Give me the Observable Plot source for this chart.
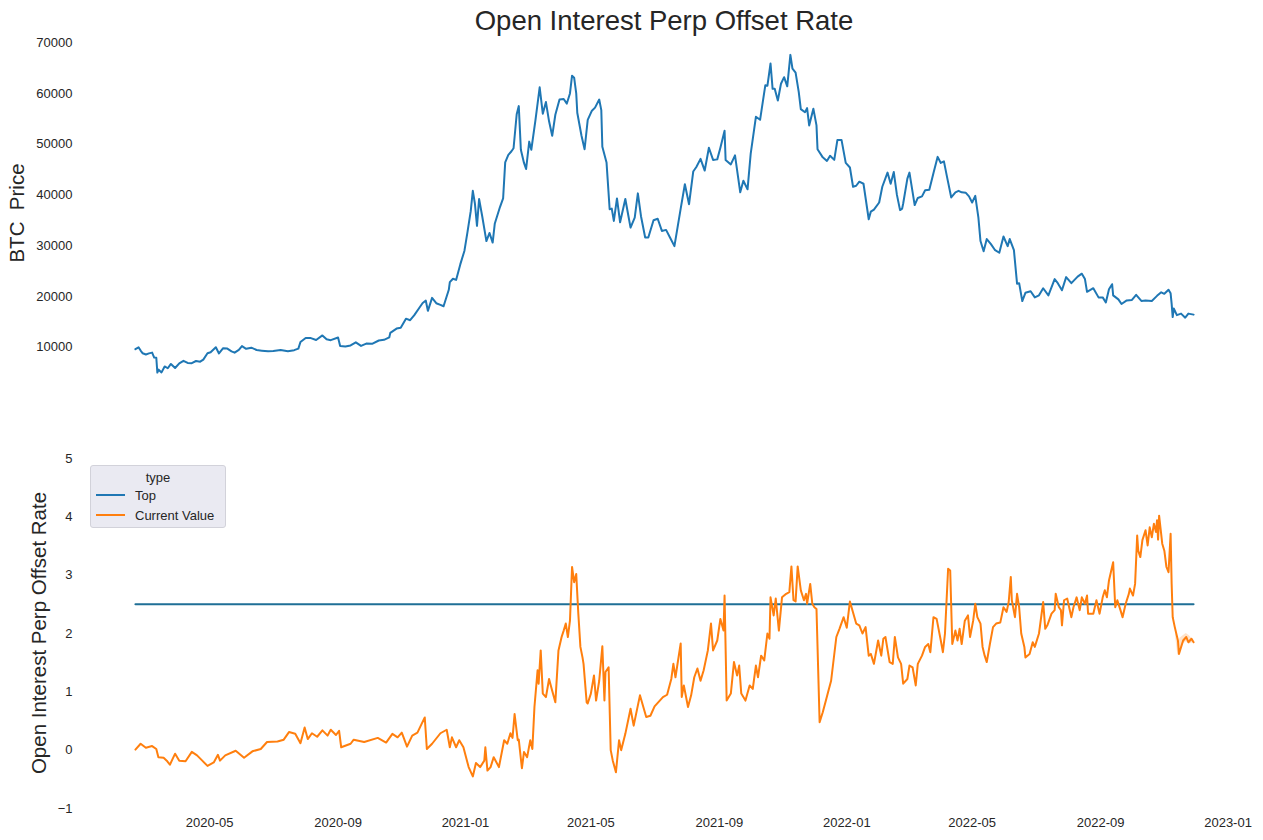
<!DOCTYPE html>
<html>
<head>
<meta charset="utf-8">
<script src="https://cdn.jsdelivr.net/npm/d3@7"></script>
<script src="https://cdn.jsdelivr.net/npm/@observablehq/plot@0.6"></script>
<style>
  html, body { margin: 0; padding: 0; background: #fff; }
  #page { position: relative; width: 1263px; height: 840px; background: #fff;
          font-family: "Liberation Sans", Arial, sans-serif; color: #262626; overflow: hidden; }
  .abs { position: absolute; }
  .ylab { position: absolute; transform: translate(-50%, -50%) rotate(-90deg); white-space: pre; line-height: normal; }
  #legend { position: absolute; left: 90px; top: 465px; width: 134px; height: 61px; background: #eaeaf2;
            border: 1px solid #d2d2da; border-radius: 3px; font-size: 13px; }
  .sw { position: absolute; height: 2px; width: 29px; left: 5px; }
  .lt { position: absolute; left: 44px; line-height: 1; }
</style>
</head>
<body>
<div id="page">
  <div class="abs" style="left:82px;width:1164px;top:5px;text-align:center;font-size:27.5px;line-height:normal;">Open Interest Perp Offset Rate</div>
  <div class="ylab" style="left:17px;top:213px;font-size:20.5px;">BTC  Price</div>
  <div class="ylab" style="left:39px;top:633px;font-size:20.5px;">Open Interest Perp Offset Rate</div>
  <div id="top" class="abs" style="left:0;top:0;"></div>
  <div id="bottom" class="abs" style="left:0;top:440px;"></div>
  <div id="legend">
    <div class="abs" style="left:0;width:134px;top:5px;text-align:center;line-height:1;">type</div>
    <div class="sw" style="top:28px;background:#1f77b4;"></div>
    <div class="lt" style="top:23px;">Top</div>
    <div class="sw" style="top:48px;background:#ff7f0e;"></div>
    <div class="lt" style="top:43px;">Current Value</div>
  </div>
</div>
<script>
// ---------------- DATA ----------------
const btcDates = [
"2020-02-20","2020-02-23","2020-02-25","2020-02-27","2020-03-01","2020-03-04","2020-03-07","2020-03-09","2020-03-11","2020-03-12","2020-03-13","2020-03-16","2020-03-19","2020-03-22","2020-03-25","2020-03-29",
"2020-04-02","2020-04-06","2020-04-10","2020-04-14","2020-04-18","2020-04-22","2020-04-25","2020-04-29","2020-05-02","2020-05-07","2020-05-10","2020-05-14","2020-05-18","2020-05-22","2020-05-25","2020-05-29",
"2020-06-01","2020-06-05","2020-06-10","2020-06-15","2020-06-20","2020-06-26","2020-07-01","2020-07-08","2020-07-15","2020-07-21","2020-07-25","2020-07-27","2020-08-01","2020-08-06","2020-08-11","2020-08-17",
"2020-08-21","2020-08-25","2020-09-01","2020-09-03","2020-09-08","2020-09-13","2020-09-18","2020-09-23","2020-09-28","2020-10-04","2020-10-10","2020-10-15","2020-10-20","2020-10-21","2020-10-27","2020-10-31",
"2020-11-05","2020-11-09","2020-11-13","2020-11-18","2020-11-21","2020-11-24","2020-11-26","2020-11-30","2020-12-04","2020-12-08","2020-12-11","2020-12-16","2020-12-17","2020-12-20","2020-12-23","2020-12-27","2020-12-31",
"2021-01-03","2021-01-06","2021-01-08","2021-01-10","2021-01-12","2021-01-14","2021-01-17","2021-01-21","2021-01-24","2021-01-27","2021-01-29","2021-02-03","2021-02-06","2021-02-08","2021-02-11","2021-02-14","2021-02-16",
"2021-02-19","2021-02-21","2021-02-23","2021-02-26","2021-02-28","2021-03-03","2021-03-05","2021-03-09","2021-03-13","2021-03-16","2021-03-19","2021-03-22","2021-03-25","2021-03-28","2021-04-01","2021-04-05","2021-04-08",
"2021-04-11","2021-04-13","2021-04-15","2021-04-17","2021-04-18","2021-04-22","2021-04-25","2021-04-28","2021-05-02","2021-05-05","2021-05-09","2021-05-11","2021-05-12","2021-05-16","2021-05-19","2021-05-21","2021-05-23",
"2021-05-26","2021-05-29","2021-06-03","2021-06-06","2021-06-08","2021-06-12","2021-06-15","2021-06-18","2021-06-22","2021-06-25","2021-06-30","2021-07-04","2021-07-08","2021-07-12","2021-07-16","2021-07-20","2021-07-23",
"2021-07-26","2021-07-30","2021-08-03","2021-08-07","2021-08-10","2021-08-14","2021-08-18","2021-08-22","2021-08-26","2021-08-30","2021-09-02","2021-09-06","2021-09-07","2021-09-12","2021-09-16","2021-09-21","2021-09-24",
"2021-09-28","2021-10-01","2021-10-06","2021-10-10","2021-10-15","2021-10-17","2021-10-20","2021-10-22","2021-10-24","2021-10-27","2021-10-30","2021-11-02","2021-11-05","2021-11-08","2021-11-10","2021-11-13","2021-11-16",
"2021-11-18","2021-11-22","2021-11-24","2021-11-26","2021-11-30","2021-12-03","2021-12-04","2021-12-09","2021-12-13","2021-12-16","2021-12-20","2021-12-23","2021-12-27","2021-12-31",
"2022-01-04","2022-01-07","2022-01-10","2022-01-13","2022-01-17","2022-01-22","2022-01-24","2022-01-27","2022-02-01","2022-02-04","2022-02-09","2022-02-12","2022-02-15","2022-02-18","2022-02-21","2022-02-23","2022-02-24",
"2022-02-28","2022-03-02","2022-03-07","2022-03-10","2022-03-14","2022-03-17","2022-03-21","2022-03-25","2022-03-29","2022-04-01","2022-04-04","2022-04-07","2022-04-11","2022-04-15","2022-04-18","2022-04-21","2022-04-25",
"2022-04-28","2022-05-01","2022-05-04","2022-05-07","2022-05-09","2022-05-12","2022-05-15","2022-05-19","2022-05-23","2022-05-27","2022-05-31","2022-06-04","2022-06-06","2022-06-10","2022-06-13","2022-06-15","2022-06-18",
"2022-06-21","2022-06-26","2022-06-30","2022-07-04","2022-07-08","2022-07-13","2022-07-19","2022-07-22","2022-07-26","2022-07-30","2022-08-04","2022-08-10","2022-08-14","2022-08-17","2022-08-19","2022-08-25","2022-08-30",
"2022-09-03","2022-09-06","2022-09-09","2022-09-12","2022-09-13","2022-09-18","2022-09-21","2022-09-26","2022-10-01","2022-10-05","2022-10-10","2022-10-14","2022-10-20","2022-10-25","2022-10-29","2022-11-01","2022-11-05",
"2022-11-07","2022-11-08","2022-11-09","2022-11-10","2022-11-13","2022-11-17","2022-11-21","2022-11-24","2022-11-29"
];
const btcPrices = [
9600,9960,9320,8780,8540,8760,8910,7930,7910,4970,5560,5010,6190,5830,6680,5880,
6800,7300,6870,6840,7260,7130,7540,8790,8990,9980,8750,9790,9700,9170,8900,9440,
10200,9660,9890,9430,9300,9160,9230,9430,9200,9390,9700,11000,11800,11780,11400,12300,
11530,11370,11900,10200,10130,10320,10940,10240,10700,10680,11300,11430,11900,12800,13650,13800,
15600,15300,16300,17800,18700,19150,17150,19700,18650,18320,18050,21300,22800,23480,23240,26300,29000,
32800,36800,40800,38300,33900,39200,35800,30900,32500,30600,34300,37600,39300,46400,47900,48600,49200,
55900,57500,48900,46300,45100,50500,48900,54800,61200,56000,58300,54500,51650,55800,58800,58900,58000,
60000,63500,63100,60000,56200,51700,49000,54800,56600,57200,58800,56700,49500,46400,37180,37300,34870,
39300,34600,39200,35800,33550,35500,40300,35800,31600,31600,35000,35300,32900,33100,31500,29900,33600,
37300,42100,38170,44600,45500,47100,44800,49300,46900,47000,49300,52640,46900,46000,47800,40500,42800,
41100,48100,55400,54800,61600,61500,65900,60900,60900,58600,61900,63200,61400,67600,64900,64100,60300,
56900,56300,57100,53700,57000,53700,49000,47400,46700,47700,46900,50800,50800,46300,
45400,41600,41800,42600,42200,35200,36700,37100,38500,41600,44400,42200,44500,40000,37000,37300,38300,
43200,44400,38000,39400,39700,40900,41000,44300,47500,46300,46600,43500,39500,40500,40800,40500,40400,
39700,38500,39800,35500,30900,28900,31300,30300,29100,28600,31800,29900,31300,29100,22500,22600,19080,
20700,21000,19800,20200,21600,20200,23400,22600,21200,23800,22600,23900,24470,23400,20900,21600,19800,
19800,18800,21400,22400,20200,19400,18500,19200,19300,20300,19100,19200,19100,20100,20800,20500,21300,
20600,18500,15920,17600,16300,16600,15800,16600,16400
];

const rateStart = "2020-02-20";
const rateDays = [
0,5,10,16,20,22,27,30,33,38,42,48,54,59,64,69,75,79,81,86,96,104,112,120,126,136,142,147,153,158,162,165,169,174,179,184,187,192,195,197,
206,209,219,232,240,246,251,255,260,265,270,274,277,279,284,292,298,301,303,307,310,314,319,323,326,330,334,335,337,340,343,348,353,356,
359,361,363,366,367,370,372,375,378,380,382,385,386,388,390,393,396,399,402,405,408,410,412,414,416,418,420,422,424,426,428,429,432,433,
436,439,441,444,447,449,450,453,455,457,460,463,465,469,474,477,483,489,493,497,505,509,513,515,517,522,523,525,529,532,535,538,541,544,
548,551,553,557,560,563,564,566,570,573,576,578,580,584,588,591,594,596,599,602,605,607,608,611,613,616,619,623,626,628,630,632,634,637,
640,642,643,646,648,650,652,655,658,661,663,666,671,674,678,681,684,690,693,696,699,702,704,707,711,714,716,718,722,725,727,730,733,735,
739,741,744,747,749,753,756,759,761,764,767,771,773,775,778,780,782,785,787,789,791,794,797,799,802,804,806,809,811,813,815,818,821,824,
828,831,834,836,838,839,842,844,846,848,851,852,856,859,861,865,869,871,873,877,880,881,884,886,887,889,892,896,898,901,904,906,909,911,
912,917,920,923,926,928,930,932,936,938,940,943,945,948,951,952,955,957,959,960,962,964,967,969,971,973,975,977,978,979,980,983,985,987,
989,991,992,993,995,998,999,1003,1006,1008,1011,1013
];
const rateValues = [
0.01,0.11,0.04,0.07,0.02,-0.12,-0.13,-0.18,-0.25,-0.06,-0.18,-0.19,-0.03,-0.09,-0.18,-0.27,-0.21,-0.08,-0.18,-0.09,-0.01,-0.13,-0.02,0.02,0.14,0.15,0.18,0.31,0.28,0.12,0.39,0.19,0.29,0.23,0.34,0.25,0.35,0.26,0.33,0.05,
0.11,0.18,0.14,0.21,0.13,0.28,0.22,0.30,0.06,0.25,0.30,0.45,0.56,0.02,0.11,0.29,0.35,0.05,0.22,0.05,0.17,0.05,-0.29,-0.45,-0.22,-0.29,-0.18,0.05,-0.35,-0.29,-0.12,-0.29,0.17,0.11,
0.29,0.21,0.62,0.17,0.18,-0.31,-0.03,-0.12,0.17,0.02,0.74,1.37,1.14,1.71,0.97,0.91,1.22,1.02,0.82,1.71,1.94,2.05,2.17,1.94,2.22,3.14,2.88,3.02,2.34,1.77,1.59,1.48,0.82,0.80,
0.97,1.28,0.85,1.19,1.78,0.85,1.34,1.42,0.00,-0.18,-0.38,0.17,0.00,0.28,0.71,0.42,0.94,0.57,0.59,0.75,0.91,0.95,1.22,1.48,1.25,1.83,0.91,1.11,0.74,0.94,1.25,1.40,1.19,1.37,
1.71,2.17,1.71,1.88,2.25,2.05,2.65,0.85,0.97,1.51,1.28,1.45,0.97,0.85,1.11,1.05,1.45,1.25,1.62,1.54,2.00,1.91,2.62,2.31,2.60,2.05,2.62,2.68,2.71,3.15,2.57,2.55,3.15,2.74,
2.57,2.68,2.51,2.85,2.51,2.45,2.42,0.48,0.65,0.85,0.99,1.19,1.94,2.08,2.28,2.10,2.55,2.17,2.14,2.00,2.11,1.62,1.65,1.48,1.88,1.62,1.91,1.94,1.51,1.48,1.94,1.59,1.48,1.14,
1.22,1.45,1.42,1.11,1.48,1.62,1.77,1.82,1.68,2.28,2.25,1.88,1.68,2.00,3.11,3.08,1.82,2.05,1.88,2.08,1.82,2.22,2.31,1.94,2.22,2.51,2.28,2.17,1.77,1.62,1.51,1.82,2.11,2.17,
2.19,2.45,2.37,2.54,2.97,2.57,2.28,2.68,2.45,2.00,1.77,1.59,1.65,1.85,1.77,2.00,2.54,2.08,2.14,2.34,2.40,2.68,2.45,2.40,2.14,2.57,2.60,2.28,2.45,2.62,2.40,2.62,2.51,2.65,
2.34,2.34,2.57,2.34,2.62,2.74,2.62,2.91,3.22,2.45,2.57,2.40,2.28,2.51,2.68,2.77,2.65,2.85,3.68,3.42,3.31,3.60,3.77,3.51,3.82,3.65,3.88,3.74,3.94,3.61,4.02,3.54,3.42,3.14,
3.05,3.71,2.85,2.28,2.11,1.88,1.65,1.88,1.94,1.85,1.91,1.85
];
// confidence band seaborn drew at the end of the series
const bandDays = [996, 998, 1000, 1003, 1006, 1009, 1012];
const bandLow  = [1.92, 1.62, 1.72, 1.82, 1.86, 1.82, 1.84];
const bandHigh = [2.08, 1.80, 1.92, 1.96, 2.00, 1.96, 1.90];
const topThreshold = 2.5;
const topDays = [0, 1013];

const btcTicks = [10000, 20000, 30000, 40000, 50000, 60000, 70000];
const rateTicks = [-1, 0, 1, 2, 3, 4, 5];
const xTickLabels = ["2020-05","2020-09","2021-01","2021-05","2021-09","2022-01","2022-05","2022-09","2023-01"];

// ---------------- BUILD ----------------
const start = new Date(rateStart + "T00:00:00Z");
const btc = btcDates.map((d, i) => ({date: new Date(d + "T00:00:00Z"), price: btcPrices[i]}));
const rate = rateDays.map((d, i) => ({date: d3.utcDay.offset(start, d), value: rateValues[i]}));
const band = bandDays.map((d, i) => ({date: d3.utcDay.offset(start, d), lo: bandLow[i], hi: bandHigh[i]}));
const topLine = topDays.map(d => ({date: d3.utcDay.offset(start, d), value: topThreshold}));

const allDates = btc.map(d => d.date).concat(rate.map(d => d.date));
const [dMin, dMax] = d3.extent(allDates);
const pad = (dMax - dMin) * 0.05;
const xDomain = [new Date(+dMin - pad), new Date(+dMax + pad)];
const xTicks = xTickLabels.map(s => new Date(s + "-01T00:00:00Z"));

const [pMin, pMax] = d3.extent(btcPrices);
const pPad = (pMax - pMin) * 0.05;

const font = "'Liberation Sans', Arial, sans-serif";
const common = {width: 1263, height: 400, marginLeft: 82, marginRight: 17,
  style: {fontFamily: font, fontSize: "13px", color: "#262626", background: "transparent", overflow: "visible"}};

const topPlot = Plot.plot({
  ...common, marginTop: 39, marginBottom: 12,
  x: {type: "utc", domain: xDomain, axis: null},
  y: {domain: [pMin - pPad, 70630], ticks: btcTicks, tickFormat: d => String(d), tickSize: 0, tickPadding: 10, label: null},
  marks: [
    Plot.line(btc, {x: "date", y: "price", stroke: "#1f77b4", strokeWidth: 2})
  ]
});
document.getElementById("top").appendChild(topPlot);

const bottomPlot = Plot.plot({
  ...common, marginTop: 18, marginBottom: 32,
  x: {type: "utc", domain: xDomain, ticks: xTicks, tickFormat: d3.utcFormat("%Y-%m"), tickSize: 0, tickPadding: 9, label: null},
  y: {domain: [-1, 5], ticks: rateTicks, tickFormat: d => d < 0 ? "\u2212" + Math.abs(d) : String(d), tickSize: 0, tickPadding: 10, label: null},
  marks: [
    Plot.areaY(band, {x: "date", y1: "lo", y2: "hi", fill: "#ff7f0e", fillOpacity: 0.22}),
    Plot.line(topLine, {x: "date", y: "value", stroke: "#1f6f96", strokeWidth: 2}),
    Plot.line(rate, {x: "date", y: "value", stroke: "#ff7f0e", strokeWidth: 2})
  ]
});
document.getElementById("bottom").appendChild(bottomPlot);
</script>
</body>
</html>
